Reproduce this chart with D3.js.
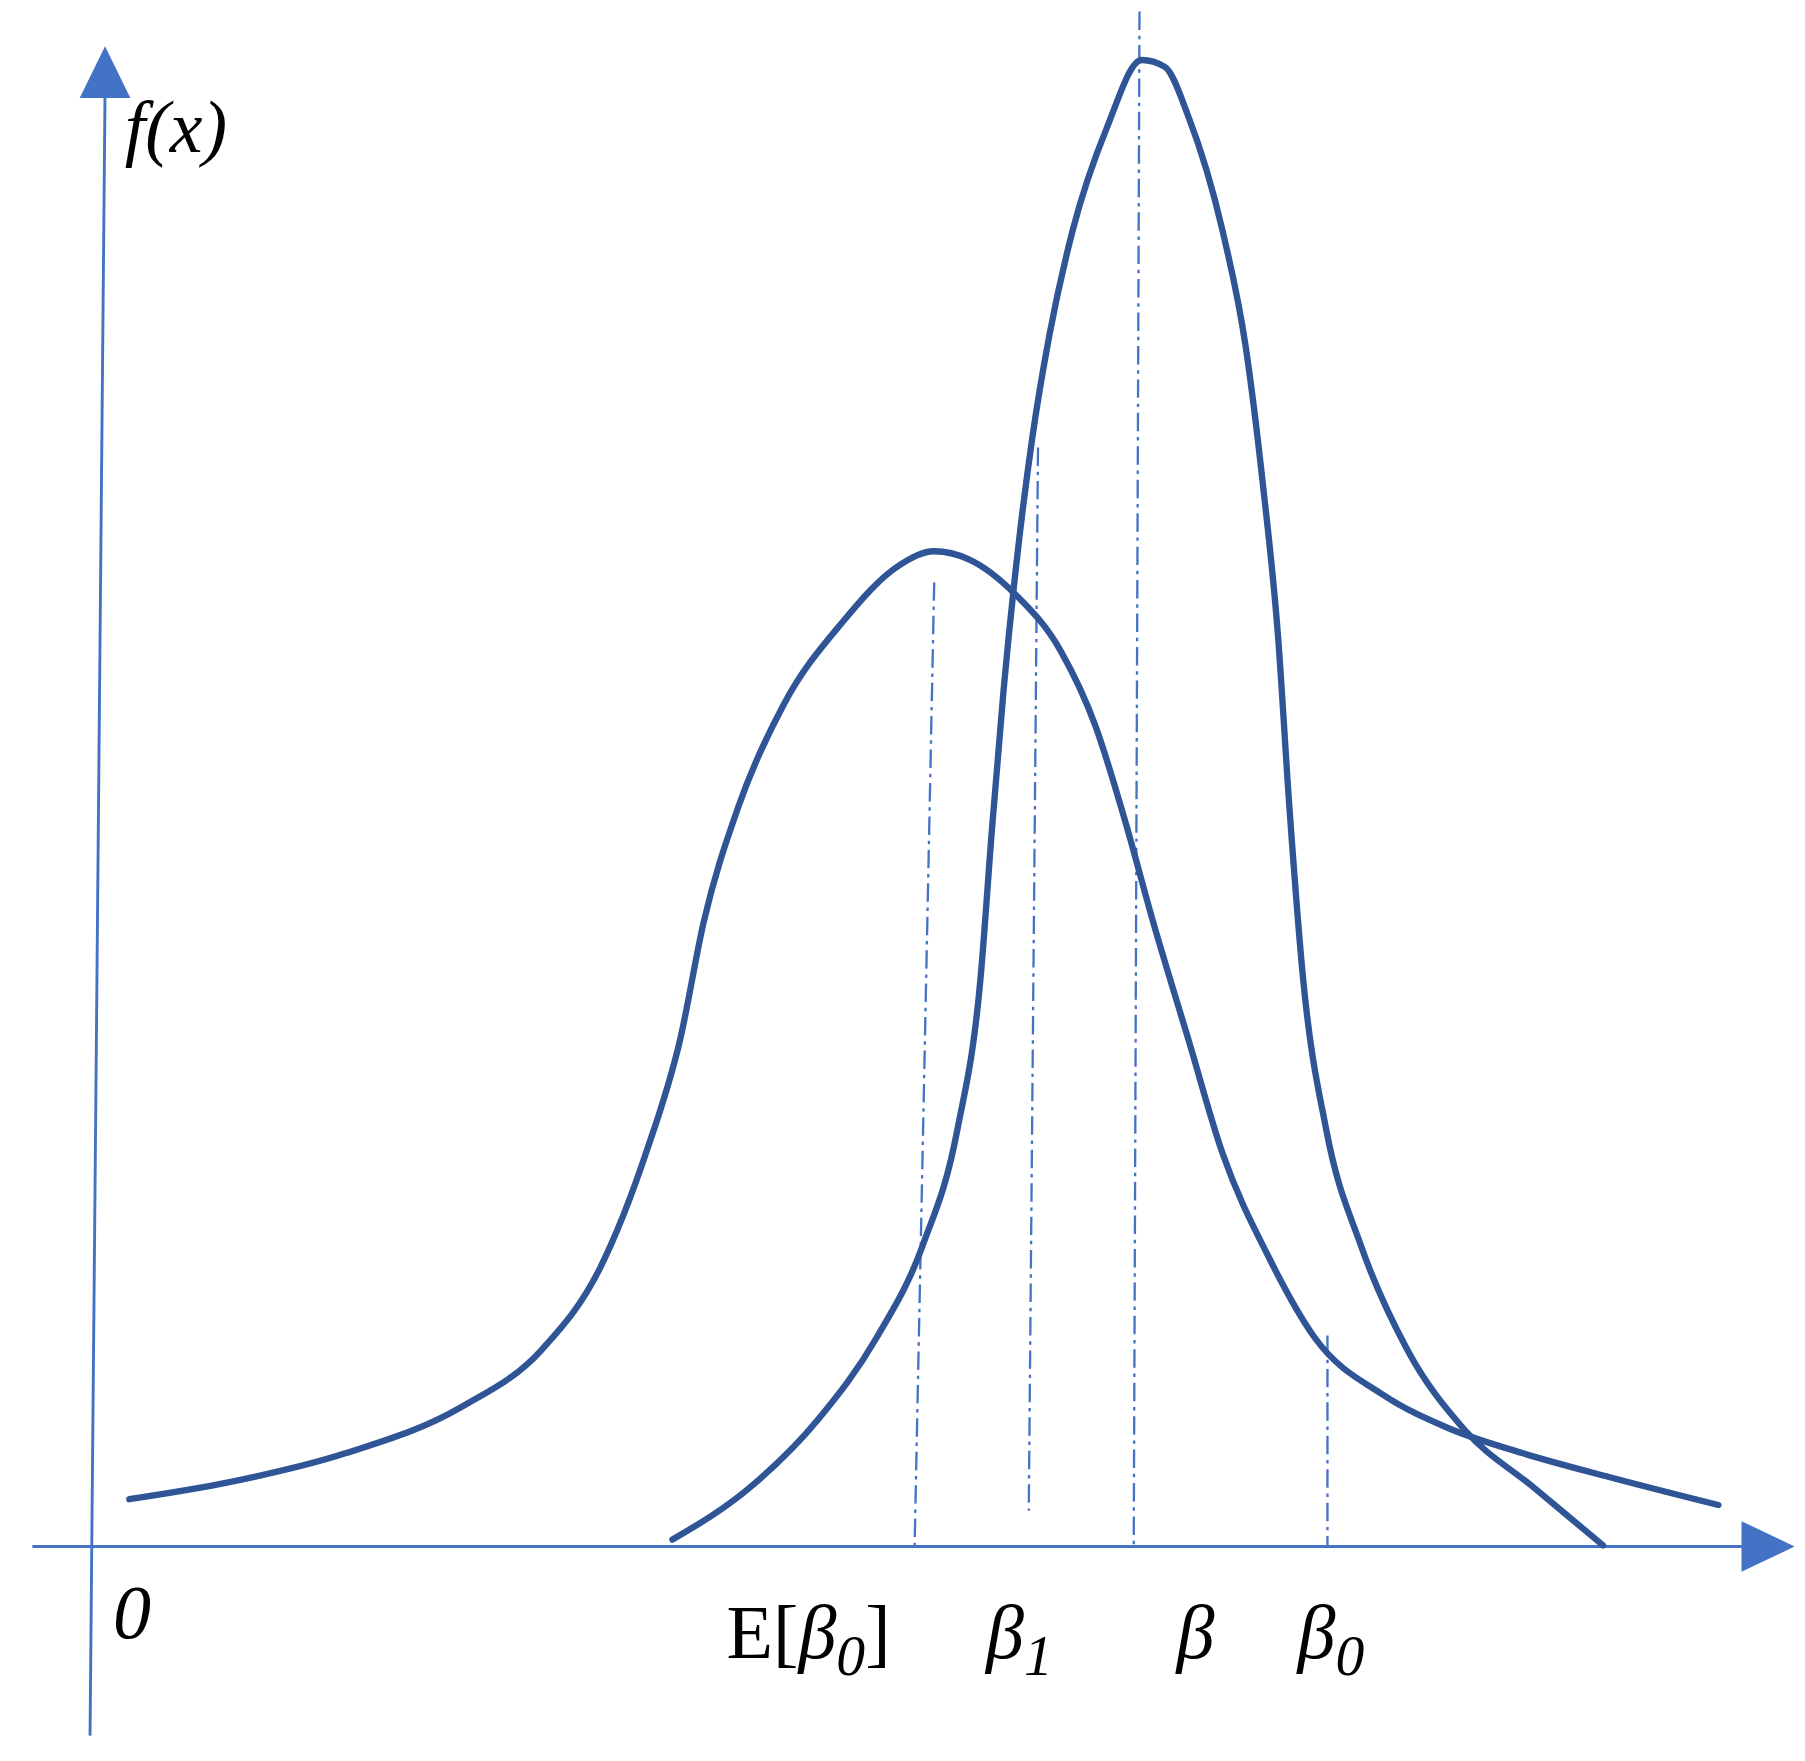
<!DOCTYPE html>
<html><head><meta charset="utf-8">
<script src="https://cdn.jsdelivr.net/npm/d3@7"></script>
<style>body{margin:0;background:#fff}</style>
</head><body>
<svg id="chart" width="1805" height="1761" viewBox="0 0 1565 1527"></svg>
<script>
// curves, x = distance from origin, y = height above x-axis
var wideCurve = [[32,41],[120,56],[220,81],[320,121],[390,171],[440,241],[480,341],[510,441],[530,541],[560,641],[600,731],[650,801],[700,851],[730,863],[760,856],[800,826],[840,776],[870,711],[895,631],[920,541],[950,441],[980,341],[1020,251],[1060,181],[1120,131],[1175,103],[1240,81],[1320,59],[1410,36]];
var narrowCurve = [[503,6],[570,51],[630,111],[680,181],[720,261],[750,361],[770,491],[780,621],[790,741],[800,841],[815,961],[830,1051],[850,1141],[880,1231],[910,1289],[930,1283],[950,1241],[980,1141],[1000,1041],[1015,921],[1028,791],[1038,641],[1050,491],[1070,361],[1100,261],[1140,171],[1190,101],[1250,51],[1310,1]];
// dash-dot markers: [top x, top y, bottom x, bottom y]
var markers = [[730,836,713,0],[820,953,812,31],[908,1331,903,0],[1071,183,1071,0]];
// labels: [main, subscript, prefix, suffix]
var labels = [["0","",""," "],["β","0","E[","]"],["β","1","",""],["β","","",""],["β","0","",""]];
var labelX = [98,630,855,1020,1125];

var x = d3.scaleLinear().domain([0,1475]).range([80,1555]);
var y = d3.scaleLinear().domain([0,1291]).range([1341,50]);
var svg = d3.select("#chart");
var axisCol = "#4472c4", curveCol = "#2f5597";

// axes
svg.append("line").attr("x1",28).attr("y1",y(0)).attr("x2",1515).attr("y2",y(0))
  .attr("stroke",axisCol).attr("stroke-width",2.5);
svg.append("path").attr("d","M1510,1319 L1556,1341 L1510,1363 Z").attr("fill",axisCol);
svg.append("line").attr("x1",78).attr("y1",1505).attr("x2",91).attr("y2",80)
  .attr("stroke",axisCol).attr("stroke-width",2.5);
svg.append("path").attr("d","M69,85 L91,40 L113,85 Z").attr("fill",axisCol);

// markers
svg.selectAll(".mk").data(markers).enter().append("line")
  .attr("x1",d=>x(d[0])).attr("y1",d=>y(d[1])).attr("x2",d=>x(d[2])).attr("y2",d=>y(d[3]))
  .attr("stroke",axisCol).attr("stroke-width",2).attr("stroke-dasharray","16 5 3 5");

var line = d3.line().x(d=>x(d[0])).y(d=>y(d[1])).curve(d3.curveMonotoneX);
[wideCurve, narrowCurve].forEach(function(c){
  svg.append("path").attr("d",line(c)).attr("fill","none")
    .attr("stroke",curveCol).attr("stroke-width",5.5).attr("stroke-linecap","round");
});

// labels
var t = svg.selectAll(".lb").data(labels).enter().append("text")
  .attr("x",(d,i)=>labelX[i]).attr("y",(d,i)=>i==0?1420:1438)
  .attr("font-family","Liberation Serif").attr("font-size",66);
t.append("tspan").text(d=>d[2]);
t.append("tspan").attr("font-style","italic").text(d=>d[0]);
t.append("tspan").attr("font-style","italic").attr("font-size",50).attr("dy",14).text(d=>d[1]);
t.append("tspan").attr("dy",d=>d[1]?-14:0).text(d=>d[3]);
svg.append("text").attr("x",108).attr("y",132).attr("font-family","Liberation Serif")
  .attr("font-style","italic").attr("font-size",64).text("f(x)");
</script>
</body></html>
